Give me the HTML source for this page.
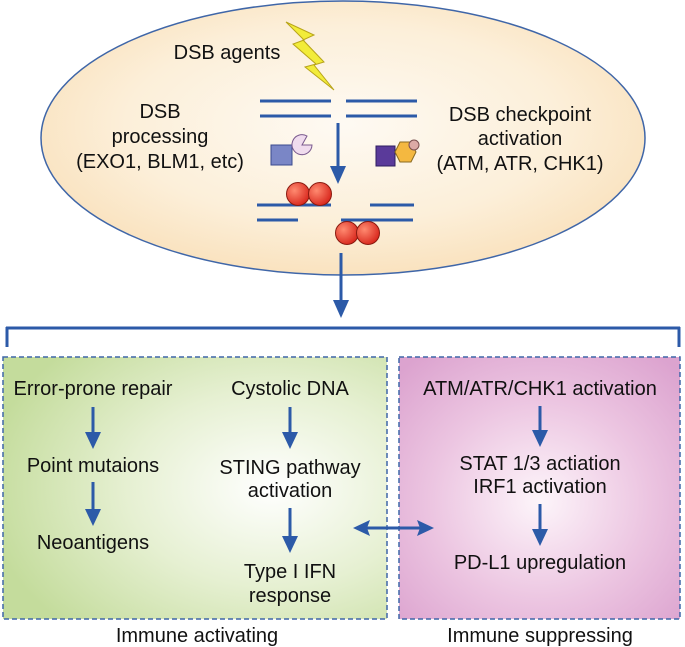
<!DOCTYPE html>
<html><head><meta charset="utf-8"><style>
html,body{margin:0;padding:0;background:#fff;width:685px;height:647px;overflow:hidden}
text{font-family:"Liberation Sans",Arial,sans-serif;font-size:20px;fill:#111}
</style></head><body>
<svg width="685" height="647" viewBox="0 0 685 647" xmlns="http://www.w3.org/2000/svg">
<defs>
<radialGradient id="eg" cx="0.5" cy="0.45" r="0.6">
<stop offset="0" stop-color="#fefaf3"/><stop offset="0.6" stop-color="#fcefd9"/><stop offset="1" stop-color="#f9dfb8"/>
</radialGradient>
<radialGradient id="gg" cx="0.7" cy="0.5" r="0.75">
<stop offset="0" stop-color="#ffffff"/><stop offset="0.5" stop-color="#e6f0d2"/><stop offset="1" stop-color="#c4dc9c"/>
</radialGradient>
<radialGradient id="pg" cx="0.5" cy="0.55" r="0.7">
<stop offset="0" stop-color="#fdf5fa"/><stop offset="0.55" stop-color="#ecc5e1"/><stop offset="1" stop-color="#dca3cf"/>
</radialGradient>
<radialGradient id="rc" cx="0.35" cy="0.35" r="0.7">
<stop offset="0" stop-color="#ff8a70"/><stop offset="1" stop-color="#d8261c"/>
</radialGradient>
</defs>
<ellipse cx="343" cy="138" rx="302" ry="137" fill="url(#eg)" stroke="#3f66a8" stroke-width="1.5"/>
<text x="227" y="59" text-anchor="middle">DSB agents</text>
<polygon points="286,22 314,35 303,40 324,62 314,65 334,90 305,67 316,64 293,44 304,40" fill="#f2ec3a" stroke="#b8a41a" stroke-width="1"/>
<text x="160" y="118" text-anchor="middle">DSB</text>
<text x="160" y="143" text-anchor="middle">processing</text>
<text x="160" y="168" text-anchor="middle">(EXO1, BLM1, etc)</text>
<text x="520" y="121" text-anchor="middle">DSB checkpoint</text>
<text x="520" y="145" text-anchor="middle">activation</text>
<text x="520" y="170" text-anchor="middle">(ATM, ATR, CHK1)</text>
<g stroke="#2c5aa8" stroke-width="3">
<line x1="260" y1="101" x2="331" y2="101"/><line x1="260" y1="116" x2="331" y2="116"/>
<line x1="346" y1="101" x2="417" y2="101"/><line x1="346" y1="116" x2="417" y2="116"/>
<line x1="257" y1="205" x2="331" y2="205"/><line x1="370" y1="205" x2="414" y2="205"/>
<line x1="257" y1="220" x2="298" y2="220"/><line x1="341" y1="220" x2="413" y2="220"/>
<line x1="338" y1="123" x2="338" y2="168"/>
<line x1="341" y1="253" x2="341" y2="302"/>
<line x1="6" y1="328" x2="680" y2="328"/><line x1="7" y1="327" x2="7" y2="347"/><line x1="679" y1="327" x2="679" y2="347"/>
</g>
<g fill="#2c5aa8">
<polygon points="330,166 346,166 338,184"/>
<polygon points="333,300 349,300 341,318"/>
</g>
<rect x="271" y="145" width="21" height="20" fill="#7a86c6" stroke="#3b4a8e"/>
<path d="M302,145 L312,145 A10,10 0 1 1 307,136 Z" fill="#f0dcee" stroke="#7a5a8e"/>
<rect x="376" y="146" width="19" height="20" fill="#5a3a9a" stroke="#2e1d60"/>
<polygon points="395,152 400,142 411,142 416,152 411,162 400,162" fill="#f4b840" stroke="#8a6a20"/>
<circle cx="414" cy="145" r="5" fill="#dcaaa6" stroke="#7a5050"/>
<g fill="url(#rc)" stroke="#8a1a10" stroke-width="1">
<circle cx="298" cy="194" r="11.5"/><circle cx="320" cy="194" r="11.5"/>
<circle cx="347" cy="233" r="11.5"/><circle cx="368" cy="233" r="11.5"/>
</g>
<rect x="3" y="357" width="384" height="262" fill="url(#gg)" stroke="#3f66a8" stroke-width="1.5" stroke-dasharray="5,3"/>
<rect x="399" y="357" width="281" height="262" fill="url(#pg)" stroke="#3f66a8" stroke-width="1.5" stroke-dasharray="5,3"/>
<text x="93" y="395" text-anchor="middle">Error-prone repair</text>
<text x="93" y="472" text-anchor="middle">Point mutaions</text>
<text x="93" y="549" text-anchor="middle">Neoantigens</text>
<text x="290" y="395" text-anchor="middle">Cystolic DNA</text>
<text x="290" y="474" text-anchor="middle">STING pathway</text>
<text x="290" y="497" text-anchor="middle">activation</text>
<text x="290" y="578" text-anchor="middle">Type I IFN</text>
<text x="290" y="602" text-anchor="middle">response</text>
<text x="540" y="395" text-anchor="middle">ATM/ATR/CHK1 activation</text>
<text x="540" y="470" text-anchor="middle">STAT 1/3 actiation</text>
<text x="540" y="493" text-anchor="middle">IRF1 activation</text>
<text x="540" y="569" text-anchor="middle">PD-L1 upregulation</text>
<text x="197" y="642" text-anchor="middle">Immune activating</text>
<text x="540" y="642" text-anchor="middle">Immune suppressing</text>
<g stroke="#2c5aa8" stroke-width="3">
<line x1="93" y1="407" x2="93" y2="434"/><line x1="93" y1="482" x2="93" y2="511"/>
<line x1="290" y1="407" x2="290" y2="434"/><line x1="290" y1="508" x2="290" y2="538"/>
<line x1="540" y1="406" x2="540" y2="432"/><line x1="540" y1="504" x2="540" y2="531"/>
<line x1="365" y1="528" x2="422" y2="528"/>
</g>
<g fill="#2c5aa8">
<polygon points="85,432 101,432 93,449"/><polygon points="85,509 101,509 93,526"/>
<polygon points="282,432 298,432 290,449"/><polygon points="282,536 298,536 290,553"/>
<polygon points="532,430 548,430 540,447"/><polygon points="532,529 548,529 540,546"/>
<polygon points="353,528 370,520 367,528 370,536"/><polygon points="434,528 417,520 420,528 417,536"/>
</g>
</svg>
</body></html>
